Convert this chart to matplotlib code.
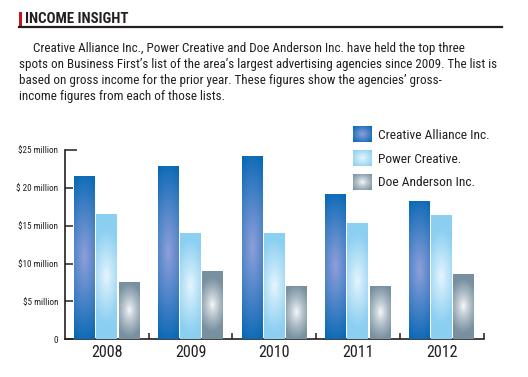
import numpy as np
import matplotlib
matplotlib.use("Agg")
import matplotlib.pyplot as plt
from matplotlib import font_manager as fm
from matplotlib.colors import to_rgb
from matplotlib.legend_handler import HandlerBase
from matplotlib.image import BboxImage
from matplotlib.transforms import Bbox, TransformedBbox
from matplotlib.patches import Rectangle
from matplotlib.lines import Line2D

# ---------------- data ----------------
years = ['2008', '2009', '2010', '2011', '2012']
creative_alliance = [21.6, 22.9, 24.2, 19.2, 18.3]
power_creative = [16.6, 14.1, 14.1, 15.4, 16.4]
doe_anderson = [7.6, 9.0, 7.0, 7.0, 8.6]
series_names = ['Creative Alliance Inc.', 'Power Creative.', 'Doe Anderson Inc.']
ytick_values = [0, 5, 10, 15, 20, 25]
ytick_labels = ['0', '$5 million', '$10 million', '$15 million', '$ 20 million', '$25 million']
title = 'INCOME INSIGHT'
paragraph = [
    "Creative Alliance Inc., Power Creative and Doe Anderson Inc. have held the top three",
    "spots on Business First\u2019s list of the area\u2019s largest advertising agencies since 2009. The list is",
    "based on gross income for the prior year. These figures show the agencies\u2019 gross-",
    "income figures from each of those lists.",
]

# ---------------- fonts ----------------
avail = {f.name for f in fm.fontManager.ttflist}
FONT = next((f for f in ['Liberation Sans Narrow', 'Roboto Condensed', 'Open Sans Condensed',
                         'DejaVu Sans Condensed', 'Liberation Sans'] if f in avail), 'DejaVu Sans')
plt.rcParams['font.family'] = [FONT, 'DejaVu Sans']
TXT = '#231f20'

W, H = 528, 377
fig = plt.figure(figsize=(W / 100, H / 100), dpi=100)
fig.patch.set_facecolor('white')


def fx(px):
    return px / W


def fy(py):
    return 1 - py / H


# axes
ax_l, ax_r, ax_b, ax_t = 65, 483.5, 339.3, 150
ax = fig.add_axes([fx(ax_l), fy(ax_b), (ax_r - ax_l) / W, (ax_b - ax_t) / H])
ax.set_xlim(-0.5, 4.5)
ax.set_ylim(0, 25)

# gradient styles: edge color, center color, rx(px), ry(px or frac), power
styles = [
    dict(edge='#0567b4', center='#909fda', rx=24, ry=None, ryfrac=0.55, power=1.0),
    dict(edge='#8bcff1', center='#e8f6fd', rx=17, ry=48, ryfrac=None, power=0.9),
    dict(edge='#7890a0', center='#ffffff', rx=15, ry=27, ryfrac=None, power=0.75),
]


def grad_img(st, wpx, hpx, n=(160, 40)):
    ny, nx = n
    y = np.linspace(0, 1, ny)[:, None] * hpx
    x = np.linspace(0, 1, nx)[None, :] * wpx
    ry = st['ry'] if st['ry'] else st['ryfrac'] * hpx
    t = np.sqrt(((x - wpx / 2) / st['rx']) ** 2 + ((y - hpx / 2) / ry) ** 2)
    t = np.clip(t, 0, 1) ** st['power']
    e = np.array(to_rgb(st['edge']))
    c = np.array(to_rgb(st['center']))
    return c[None, None, :] * (1 - t[..., None]) + e[None, None, :] * t[..., None]


xs = np.arange(len(years))
offsets = [-0.266, 0.0, 0.266]
bw = 0.25
data = [creative_alliance, power_creative, doe_anderson]
px_per_x = (ax_r - ax_l) / 5.0
px_per_y = (ax_b - ax_t) / 25.0
containers = []
for vals, off, st in zip(data, offsets, styles):
    bc = ax.bar(xs + off, vals, width=bw, color=st['edge'], linewidth=0, zorder=2)
    containers.append(bc)
    for rect in bc:
        x0, w, h = rect.get_x(), rect.get_width(), rect.get_height()
        img = grad_img(st, w * px_per_x, h * px_per_y)
        im = ax.imshow(img, extent=(x0, x0 + w, 0, h), origin='lower', aspect='auto',
                       interpolation='bilinear', zorder=3)
        im.set_clip_path(rect)
ax.set_xlim(-0.5, 4.5)
ax.set_ylim(0, 25)

# spines / ticks
for s in ['top', 'right']:
    ax.spines[s].set_visible(False)
for s in ['left', 'bottom']:
    ax.spines[s].set_linewidth(1.2)
    ax.spines[s].set_color(TXT)
ax.set_yticks(ytick_values)
ax.set_yticklabels(ytick_labels)
ax.tick_params(axis='y', direction='in', length=6, width=1.1, color=TXT, pad=5,
               labelsize=6.6, labelcolor=TXT)
ax.yaxis.get_major_ticks()[-1].tick1line.set_markersize(8.5)
ax.set_xticks(xs)
ax.set_xticklabels(years)
ax.tick_params(axis='x', which='major', length=0, pad=4, labelsize=11.5, labelcolor=TXT)
ax.set_xticks(np.arange(0.5, 5, 1.0), minor=True)
ax.tick_params(axis='x', which='minor', direction='in', length=4.5, width=1.1, color=TXT)


# legend with gradient swatches
class GradientHandler(HandlerBase):
    def __init__(self, st):
        super().__init__()
        self.st = st

    def create_artists(self, legend, orig_handle, xdescent, ydescent, width, height,
                       fontsize, trans):
        bb = Bbox.from_bounds(-xdescent, -ydescent, width, height)
        im = BboxImage(TransformedBbox(bb, trans), interpolation='bilinear', origin='lower')
        st = dict(self.st)
        st.update(rx=13, ry=13, ryfrac=None)
        im.set_data(grad_img(st, 19, 19, n=(40, 40)))
        return [im]


LFS = 9.6
hmap = {c: GradientHandler(st) for c, st in zip(containers, styles)}
leg = fig.legend(containers, series_names, handler_map=hmap, loc='upper left',
                 bbox_to_anchor=(fx(352.5), fy(126.5)), frameon=False, fontsize=LFS,
                 handlelength=19 / (LFS * 100 / 72), handleheight=19 / (LFS * 100 / 72),
                 labelspacing=0.62, handletextpad=0.45, borderpad=0, borderaxespad=0)
for t in leg.get_texts():
    t.set_color(TXT)

# header
fig.add_artist(Rectangle((fx(18.5), fy(26)), 3.5 / W, 14 / H, color='#c4161c', lw=0))
fig.add_artist(Line2D([fx(19), fx(502)], [fy(26.5), fy(26.5)], color=TXT, lw=1.6))
ttl = fig.text(fx(25), fy(23), title, fontsize=11, fontweight='bold', color=TXT,
               va='baseline', ha='left')
ptexts = []
for i, line in enumerate(paragraph):
    x = 33 if i == 0 else 19
    ptexts.append(fig.text(fx(x), fy(52 + 16 * i), line, fontsize=9, color=TXT,
                           va='baseline', ha='left'))

# fit text widths to reference
fig.canvas.draw()
r = fig.canvas.get_renderer()


def fit(t, target):
    w = t.get_window_extent(r).width
    return t.get_fontsize() * target / w


fs = fit(ptexts[1], 479)
for t in ptexts:
    t.set_fontsize(fs)
ttl.set_fontsize(fit(ttl, 103))

fig.savefig('out.png', dpi=100, facecolor='white')
